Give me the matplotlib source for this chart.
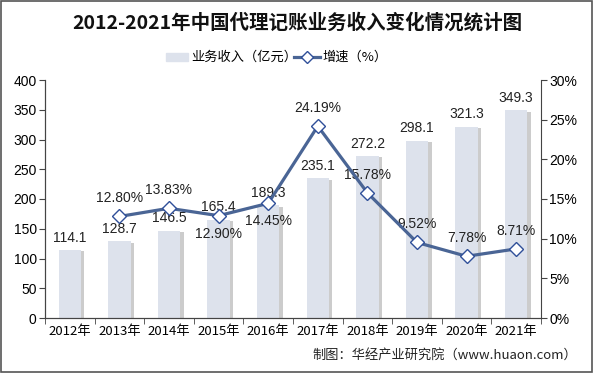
import matplotlib.pyplot as plt
import matplotlib.patheffects as pe
from matplotlib.patches import Rectangle
from matplotlib.ticker import FuncFormatter, MultipleLocator

plt.rcParams["font.family"] = ["Noto Sans CJK SC", "DejaVu Sans"]

years = ["2012年", "2013年", "2014年", "2015年", "2016年",
         "2017年", "2018年", "2019年", "2020年", "2021年"]
revenue = [114.1, 128.7, 146.5, 165.4, 189.3, 235.1, 272.2, 298.1, 321.3, 349.3]
growth = [None, 12.80, 13.83, 12.90, 14.45, 24.19, 15.78, 9.52, 7.78, 8.71]
# label above (+) or below (-) the marker
growth_pos = [0, 1, 1, -1, -1, 1, 1, 1, 1, 1]

bar_color = "#dde2ec"
line_color = "#4a6595"
num_font = "Liberation Sans"

fig = plt.figure(figsize=(5.94, 3.73), dpi=100)
ax = fig.add_axes([45 / 594, 55 / 373, 496 / 594, 238 / 373])
ax2 = ax.twinx()

x = list(range(len(years)))
bars = ax.bar(x, revenue, width=0.45, color=bar_color, zorder=2)
for b in bars:
    b.set_path_effects([pe.SimplePatchShadow(offset=(2.5, -1), shadow_rgbFace="#9a9a9a", alpha=0.5),
                        pe.Normal()])

for xi, v in zip(x, revenue):
    ax.text(xi, v + 9, f"{v:.1f}", ha="center", va="bottom", fontsize=10, color="#222222",
            family=num_font, zorder=5)

ax.set_xlim(-0.5, len(years) - 0.5)
ax.set_ylim(0, 400)
ax.yaxis.set_major_locator(MultipleLocator(50))
ax.set_xticks(x)
ax.set_xticklabels(years, fontsize=9.5)
ax.set_xticks([i + 0.5 for i in range(-1, len(years))], minor=True)
ax.tick_params(axis="x", which="major", length=0, pad=5)
ax.tick_params(axis="x", which="minor", length=4, color="#444444")
ax.tick_params(axis="y", labelsize=10, length=4, color="#444444", pad=2)
for lab in ax.get_yticklabels():
    lab.set_family(num_font)

gx = [xi for xi, g in zip(x, growth) if g is not None]
gy = [g for g in growth if g is not None]
ax2.plot(gx, gy, color=line_color, lw=2.3, marker="D", markersize=7,
         markerfacecolor="white", markeredgecolor="#2f4f99", markeredgewidth=1.0, zorder=4)
for xi, g, p in zip(x, growth, growth_pos):
    if g is None:
        continue
    if p > 0:
        ax2.text(xi, g + 1.4, f"{g:.2f}%", ha="center", va="bottom", fontsize=10,
                 color="#222222", family=num_font)
    else:
        ax2.text(xi, g - 1.4, f"{g:.2f}%", ha="center", va="top", fontsize=10,
                 color="#222222", family=num_font)

ax2.set_ylim(0, 30)
ax2.yaxis.set_major_locator(MultipleLocator(5))
ax2.yaxis.set_major_formatter(FuncFormatter(lambda v, _: f"{v:.0f}%"))
ax2.tick_params(axis="y", labelsize=10, length=4, color="#444444", pad=2)
for lab in ax2.get_yticklabels():
    lab.set_family(num_font)

ax.set_zorder(ax2.get_zorder() - 1)
ax.patch.set_visible(False)
for a in (ax, ax2):
    a.spines["top"].set_visible(False)
    for s in ("left", "right", "bottom"):
        a.spines[s].set_color("#444444")
        a.spines[s].set_linewidth(0.8)
ax.spines["right"].set_visible(False)

fig.text(0.5, 350 / 373, "2012-2021年中国代理记账业务收入变化情况统计图", ha="center", va="center",
         fontsize=14, fontweight="bold", color="#111111")

# legend
ly = 316 / 373
fig.patches.append(Rectangle((166 / 594, ly - 4 / 373), 22 / 594, 8 / 373,
                             transform=fig.transFigure, color=bar_color))
fig.text(191 / 594, ly, "业务收入（亿元）", ha="left", va="center", fontsize=9.5)
fig.lines.append(plt.Line2D([294 / 594, 307 / 594, 320 / 594], [ly, ly, ly],
                            transform=fig.transFigure, color=line_color, lw=2.3,
                            marker="D", markersize=6, markevery=[1],
                            markerfacecolor="white", markeredgecolor="#2f4f99"))
fig.text(322 / 594, ly, "增速（%）", ha="left", va="center", fontsize=9.5)

fig.text(577 / 594, 18 / 373, "制图：华经产业研究院（www.huaon.com）", ha="right", va="center",
         fontsize=9.5, color="#222222")

fig.patches.append(Rectangle((0.002, 0.003), 0.995, 0.993, transform=fig.transFigure,
                             fill=False, edgecolor="#555555", lw=1.2))

fig.savefig("out.png", dpi=100)
